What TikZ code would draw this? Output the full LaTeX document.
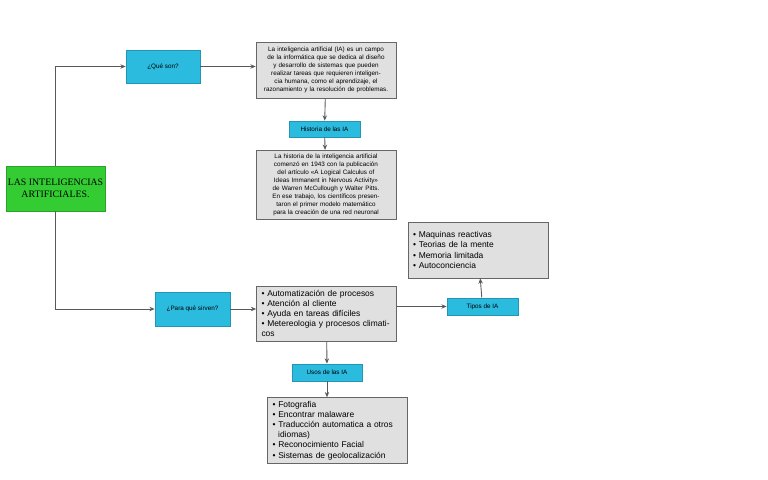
\documentclass[tikz,border=0pt]{standalone}
\usepackage{fontspec}
\setmainfont{Liberation Sans}
\newfontfamily\serifx{Liberation Serif}
\usetikzlibrary{arrows.meta}
\definecolor{cy}{HTML}{2BBBDF}
\definecolor{gr}{HTML}{33CC33}
\definecolor{bx}{HTML}{E0E0E0}
\begin{document}
\begin{tikzpicture}[x=0.02cm,y=-0.02cm,
 lbl/.style={draw=cy!80!black,fill=cy,inner sep=1pt,font=\fontsize{3.6}{4}\selectfont,align=center},
 txt/.style={draw=gray!80!black,fill=bx,minimum width=2.8cm,text width=2.5cm,inner sep=2pt,font=\fontsize{3.6}{4.6}\selectfont,align=center},
 lst/.style={draw=gray!80!black,fill=bx,minimum width=2.8cm,text width=2.6cm,inner sep=2pt,font=\fontsize{4.8}{5.8}\selectfont,align=left},
 ln/.style={draw=gray!70!black,line width=0.5pt},
 ar/.style={ln,-{Stealth[length=3pt,width=2.5pt]}}]
\useasboundingbox (0,0) rectangle (768,480);
\node[draw=gr!80!black,fill=gr,minimum width=1.86cm,minimum height=0.9cm,font=\serifx\fontsize{5.6}{6.6}\selectfont,align=center,inner sep=1pt] (m) at (55.5,188.5) {LAS INTELIGENCIAS\\ARTIFICIALES.};
\node[lbl,minimum width=1.48cm,minimum height=0.66cm] (q) at (163,66.5) {¿Qué son?};
\node[txt,minimum height=1.12cm] (b1) at (326,70) {La inteligencia artificial (IA) es un campo de la informática que se dedica al diseño y desarrollo de sistemas que pueden realizar tareas que requieren inteligencia humana, como el aprendizaje, el razonamiento y la resolución de problemas.};
\node[lbl,minimum width=1.42cm,minimum height=0.32cm] (h) at (324.5,129) {Historia de las IA};
\node[txt,minimum height=1.12cm] (b2) at (326,185) {La historia de la inteligencia artificial comenzó en 1943 con la publicación del artículo «A Logical Calculus of Ideas Immanent in Nervous Activity» de Warren McCullough y Walter Pitts. En ese trabajo, los científicos presentaron el primer modelo matemático para la creación de una red neuronal};
\node[lbl,minimum width=1.5cm,minimum height=0.68cm] (p) at (192.5,309) {¿Para qué sirven?};
\node[lst,minimum height=1.1cm] (b3) at (326.5,313.5) {• Automatización de procesos\\• Atención al cliente\\• Ayuda en tareas difíciles\\• Metereologia y procesos climaticos};
\node[lbl,minimum width=1.42cm,minimum height=0.34cm] (t) at (482.5,306.5) {Tipos de IA};
\node[lst,minimum height=1.12cm] (b4) at (478,250) {• Maquinas reactivas\\• Teorias de la mente\\• Memoria limitada\\• Autoconciencia};
\node[lbl,minimum width=1.4cm,minimum height=0.34cm] (u) at (327,372.5) {Usos de las IA};
\node[lst,minimum height=1.14cm] (b5) at (337.5,430.5) {• Fotografia\\• Encontrar malaware\\• Traducción automatica a otros\\\ \ idiomas)\\• Reconocimiento Facial\\• Sistemas de geolocalización};
\draw[ar] (m.north) |- (q.west);
\draw[ar] (m.south) |- (p.west);
\draw[ar] (q.east) -- (q.east -| b1.west);
\draw[ar] (b1) -- (h);
\draw[ar] (h) -- (b2);
\draw[ar] (p.east) -- (p.east -| b3.west);
\draw[ar] (t.west -| b3.east) -- (t.west);
\draw[ar] (t) -- (b4);
\draw[ar] (b3) -- (u);
\draw[ar] (u.south) -- (u.south |- b5.north);
\end{tikzpicture}
\end{document}
